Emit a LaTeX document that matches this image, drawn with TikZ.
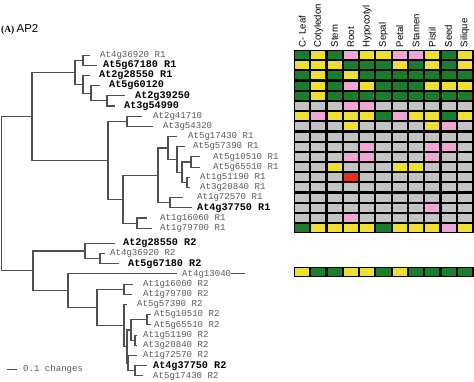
\documentclass[tikz,border=0pt]{standalone}
\usepackage{fontspec}
\setmainfont{Liberation Serif}
\setsansfont{Liberation Sans}
\setmonofont{Liberation Mono}
\definecolor{cG}{HTML}{1B7D2C}
\definecolor{cY}{HTML}{EEE033}
\definecolor{cP}{HTML}{F0A6D4}
\definecolor{cS}{HTML}{C3C3C3}
\definecolor{cR}{HTML}{E0301E}
\definecolor{treegray}{HTML}{505050}
\definecolor{labgray}{HTML}{5A5A5A}
\begin{document}
\begin{tikzpicture}[x=1bp,y=-1bp,
  tree/.style={draw=treegray,line width=1.1bp},
  lab/.style={anchor=west,inner sep=0pt,text=labgray,font=\ttfamily\fontsize{9.1}{10}\selectfont},
  blab/.style={anchor=west,inner sep=0pt,text=black,font=\ttfamily\bfseries\fontsize{10.2}{11}\selectfont},
  head/.style={rotate=90,anchor=west,inner sep=0pt,font=\sffamily\fontsize{9.6}{10}\selectfont}]
\useasboundingbox (0,0) rectangle (474,381);
\begin{scope}
\clip (0,0) rectangle (474,381);
% title
\node[anchor=base west,inner sep=0pt] (title) at (1,32.3) {\bfseries\fontsize{9.5}{10}\selectfont (A)\ \sffamily\mdseries\fontsize{11.5}{12}\selectfont AP2};
% headers
\foreach \h [count=\k] in {C- Leaf,Cotyledon,Stem,Root,Hypocotyl,Sepal,Petal,Stamen,Pistil,Seed,Silique}
  \node[head] (h\k) at ({294+16.27*(\k-1)+8.1},47.5) {\h};
% grid
\fill[black] (294,50) rectangle (474,233.3);
\foreach \row [count=\r] in {
 {G,Y,G,P,Y,Y,P,P,Y,G,Y},
 {Y,Y,Y,G,G,G,Y,G,Y,G,Y},
 {G,Y,G,Y,G,G,G,G,G,G,G},
 {G,Y,G,P,Y,G,G,G,Y,Y,Y},
 {G,Y,G,G,G,G,G,G,G,G,G},
 {S,S,S,P,P,S,S,S,S,S,S},
 {Y,P,Y,Y,Y,G,P,Y,Y,G,Y},
 {S,S,S,Y,S,S,S,S,Y,P,S},
 {S,S,S,S,S,S,S,S,S,S,S},
 {S,S,S,S,P,S,S,S,P,P,S},
 {S,S,S,P,P,S,S,S,P,S,S},
 {S,S,Y,S,S,S,Y,Y,S,S,S},
 {S,S,S,R,S,S,S,S,S,S,S},
 {S,S,S,S,S,S,S,S,S,S,S},
 {S,S,S,S,S,S,S,S,S,S,S},
 {S,S,S,S,S,S,S,S,P,S,S},
 {S,S,S,P,S,S,S,S,S,S,S},
 {G,Y,Y,Y,Y,G,Y,Y,Y,P,Y}}
 {\foreach \c [count=\k] in \row
   \fill[c\c] ({294+16.27*(\k-1)+1.1},{50+10.18*(\r-1)+1.1}) rectangle ++(14.07,7.98);}
\fill[black] (294,266.6) rectangle (474,276.8);
\foreach \c [count=\k] in {Y,G,G,Y,Y,G,Y,G,G,G,G}
   \fill[c\c] ({294+16.27*(\k-1)+1.1},267.7) rectangle ++(14.07,8.0);
\end{scope}
% ---------- tree: internal nodes ----------
\coordinate (root) at (1.5,193.6);
\coordinate (nR1) at (32,116.3);
\coordinate (nB) at (75,72.3);
\coordinate (nD) at (83,60.2);
\coordinate (nE) at (83,84.4);
\coordinate (nF) at (91,93.25);
\coordinate (nG) at (107,100.9);
\coordinate (nC) at (108,160.3);
\coordinate (nH) at (127,121.3);
\coordinate (nI) at (123,199.2);
\coordinate (nJ) at (158,175.35);
\coordinate (nL) at (168,148);
\coordinate (nN) at (177,159.45);
\coordinate (nO) at (182,172.2);
\coordinate (nP) at (191,162);
\coordinate (nQ) at (187,182.35);
\coordinate (nM) at (170,202.7);
\coordinate (nK) at (137,223.1);
\coordinate (nR2) at (33,270.8);
\coordinate (nS) at (85,251);
\coordinate (nT) at (100,258.6);
\coordinate (nU) at (68,290.6);
\coordinate (nV) at (97,307.4);
\coordinate (nW) at (124,289.2);
\coordinate (nX) at (124,325.5);
\coordinate (nY) at (127,346.6);
\coordinate (nO2) at (131,330);
\coordinate (nP2) at (147,319.8);
\coordinate (nQ2) at (135,340.2);
\coordinate (nM2) at (128,363.15);
\coordinate (nN2) at (135,370.8);
% ---------- leaves ----------
\foreach \i/\e/\lx/\s/\t in {
 1/90/100/lab/At4g36920 R1, 2/97/103/blab/At5g67180 R1, 3/90/99/blab/At2g28550 R1,
 4/100/109/blab/At5g60120, 5/125/135/blab/At2g39250, 6/115/124/blab/At3g54990,
 7/142/153/lab/At2g41710, 8/153/163/lab/At3g54320, 9/177/188/lab/At5g17430 R1,
 10/185/193/lab/At5g57390 R1, 11/200/213/lab/At5g10510 R1, 12/200/213/lab/At5g65510 R1,
 13/190/200/lab/At1g51190 R1, 14/190/200/lab/At3g20840 R1, 15/183/197/lab/At1g72570 R1,
 16/192/197/blab/At4g37750 R1, 17/147/160/lab/At1g16060 R1, 18/152/160/lab/At1g79700 R1}
 {\coordinate (a\i) at (\e,{55.1+10.18*(\i-1)});
  \node[\s] (ta\i) at (\lx,{55.1+10.18*(\i-1)}) {\t};}
\foreach \i/\e/\lx/\s/\t in {
 0/115/123/blab/At2g28550 R2, 1/105/110/lab/At4g36920 R2, 2/119/128/blab/At5g67180 R2,
 3/177/182/lab/At4g13040, 4/133/143/lab/At1g16060 R2, 5/132/143/lab/At1g79700 R2,
 6/127/137/lab/At5g57390 R2, 7/151/154/lab/At5g10510 R2, 8/151/154/lab/At5g65510 R2,
 9/137/143/lab/At1g51190 R2, 10/137/143/lab/At3g20840 R2, 11/137/143/lab/At1g72570 R2,
 12/147/153/blab/At4g37750 R2, 13/143/153/lab/At5g17430 R2}
 {\coordinate (b\i) at (\e,{243.3+10.2*\i});
  \node[\s] (tb\i) at (\lx,{243.3+10.2*\i}) {\t};}
\coordinate (dashA) at (231,273.9);
\coordinate (dashB) at (245,273.9);
\draw[tree] (dashA) -- (dashB);
% ---------- edges ----------
\foreach \p/\c in {root/nR1,root/nR2,nR1/nB,nR1/nC,nB/nD,nB/nE,nD/a1,nD/a2,nE/a3,nE/nF,
  nF/a4,nF/nG,nG/a5,nG/a6,nC/nH,nC/nI,nH/a7,nH/a8,nI/nJ,nI/nK,nJ/nL,nJ/nM,nL/a9,nL/nN,
  nN/a10,nN/nO,nO/nP,nO/nQ,nP/a11,nP/a12,nQ/a13,nQ/a14,nM/a15,nM/a16,nK/a17,nK/a18,
  nR2/nS,nR2/nU,nS/b0,nS/nT,nT/b1,nT/b2,nU/b3,nU/nV,nV/nW,nV/nX,nW/b4,nW/b5,nX/b6,nX/nY,
  nY/nO2,nY/nM2,nO2/nP2,nO2/nQ2,nP2/b7,nP2/b8,nQ2/b9,nQ2/b10,nM2/b11,nM2/nN2,nN2/b12,nN2/b13}
  \draw[tree] (\p) |- (\c);
% scale bar
\coordinate (sb1) at (7,369.3);
\coordinate (sb2) at (17,369.3);
\draw[tree] (sb1) -- (sb2);
\node[lab] (sbt) at (23,369.3) {0.1 changes};
\end{tikzpicture}
\end{document}
